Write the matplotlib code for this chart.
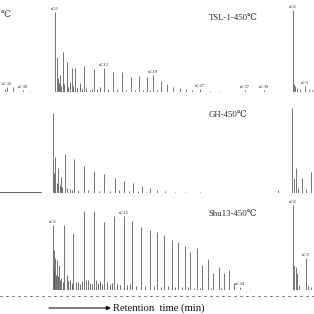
import matplotlib
matplotlib.use("Agg")
import matplotlib.pyplot as plt

# ---------------- data (retention-time units, relative intensity) ----------------
# Top row: TSL-1-450°C
top_left_t = [5, 7, 13, 23, 30]
top_left_h = [3, 5, 5, 2, 1]
top_left_lab = {7: "nC36", 23: "nC38"}

top_mid_t = [5, 6.5, 10, 12.7, 16.7, 21.7, 25, 30, 34.3, 44.3, 54, 63.3, 71.7, 80.7, 88.7, 96.7,
             103.3, 110.7, 117.3, 123.3, 130, 135.7, 142, 150, 160, 170, 195, 214]
top_mid_h = [80, 35, 17, 40, 30, 24, 24, 9, 26, 23, 24, 20, 20, 15, 16, 15,
             17, 11, 8, 5, 4, 3, 2, 2.5, 1, 1, 2, 1.5]
top_mid_minor_t = [7.5, 8.5, 11, 14, 18, 19.5, 23, 27, 32, 36, 40, 42, 47, 50, 58, 67, 76, 85, 93, 100, 107]
top_mid_minor_h = [14, 9, 6, 8, 5, 10, 6, 4, 3, 4, 2, 3, 3, 5, 3, 3, 2, 2, 2, 1.5, 1.5]
top_mid_lab = {5: "nC6", 54: "nC13", 103.3: "nC19", 150: "nC27", 195: "nC37", 214: "nC39"}

top_right_t = [3.5, 4.5, 6, 8, 11, 16, 20, 23]
top_right_h = [82, 8, 6, 4, 3, 6, 3, 2]
top_right_lab = {3.5: "nC6", 16: "nC9"}

# Middle row: GH-450°C
mid_mid_t = [2.7, 5, 8.3, 10.7, 15, 24, 34.3, 44.3, 54.3, 64.7, 74, 83.3, 91.7, 100, 107.3,
             115, 125, 135, 150, 228]
mid_mid_h = [80, 36, 25, 16, 39, 34, 27, 22, 19, 15, 12, 10, 7, 5, 3, 2, 1.5, 1, 1, 3]
mid_mid_minor_t = [3.5, 6.5, 9.5, 12, 17, 20, 22, 28, 38, 49, 60, 69, 79, 88, 96]
mid_mid_minor_h = [20, 10, 8, 6, 5, 4, 3, 3, 3, 2, 2, 3, 2, 2, 1.5]

mid_right_t = [3, 4.5, 7, 9, 13, 17, 21.7]
mid_right_h = [85, 15, 25, 5, 15, 4, 21]

# Bottom row: Shu13-450°C
bot_mid_t = [2.7, 3.5, 5, 7, 9, 11, 14.3, 16.5, 23.3, 26, 34.3, 36, 44.3, 46, 54.3, 64.3, 74,
             82.3, 90.7, 100, 107.3, 114, 121.7, 128.3, 135, 140, 146.7, 152.3, 157.7, 163.3,
             168.7, 174, 179.3, 184, 190, 200]
bot_mid_h = [65, 40, 32, 30, 25, 12, 65, 15, 57, 8, 79, 10, 79, 10, 68, 74, 74,
             69, 63, 60, 58, 55, 50, 48, 44, 38, 42, 25, 31, 17,
             23, 17, 20, 7, 3, 1]
bot_mid_minor_t = [4.2, 6, 8, 10, 12.5, 18, 20, 22, 28, 30, 32, 38, 40, 42, 48, 50, 52, 57, 60,
                   62, 67, 70, 77, 80, 86, 95, 104, 111, 118, 125, 132, 138, 144, 150, 161, 171]
bot_mid_minor_h = [20, 15, 14, 10, 8, 9, 10, 7, 8, 6, 9, 10, 7, 6, 7, 9, 6, 8, 6,
                   7, 6, 5, 5, 6, 4, 4, 4, 3, 4, 3, 3, 3, 2, 2, 2, 2]
bot_mid_lab = {2.7: "nC6", 74: "nC15", 190: "nC34"}

bot_right_t = [4, 5, 6.5, 8, 10, 16.7, 19, 22]
bot_right_h = [85, 25, 23, 17, 5, 32, 4, 3]
bot_right_lab = {4: "nC6", 16.7: "nC9"}

row_titles = ["TSL-1-450\u2103", "GH-450\u2103", "Shu13-450\u2103"]
left_title = "\u2103"
xlabel = "Retention  time (min)"

# ---------------- layout ----------------
W = H = 314
fig = plt.figure(figsize=(3.14, 3.14), dpi=100)
fig.patch.set_facecolor("white")
SERIF = ["Liberation Serif", "DejaVu Serif"]
PK = "#505050"
TXT = "#2a2a2a"

cols = {"left": (0, 42), "mid": (50, 288), "right": (289, 314)}
rows = {"top": 92, "mid": 193, "bot": 290}
PANEL_H = 90


def make_ax(col, row):
    x0, x1 = cols[col]
    base = rows[row]
    ax = fig.add_axes([x0 / W, 1 - base / H, (x1 - x0) / W, PANEL_H / H])
    ax.set_xlim(0, x1 - x0)
    ax.set_ylim(0, PANEL_H)
    ax.axis("off")
    return ax


def draw(ax, t, h, minor_t=None, minor_h=None, labels=None, base=(0, 1), lw=0.55):
    ax.axhline(0, base[0], base[1], color="#2a2a2a", lw=0.7)
    if minor_t:
        ax.vlines(minor_t, 0, minor_h, color="#333333", lw=0.5)
    ax.vlines(t, 0, h, color=PK, lw=lw)
    if labels:
        for tt, txt in labels.items():
            hh = h[t.index(tt)]
            ax.text(tt, hh + 1, txt, fontsize=3.3, family=SERIF, ha="center", va="bottom",
                    color=TXT)


# top row
ax = make_ax("left", "top")
draw(ax, top_left_t, top_left_h, labels=top_left_lab, base=(0, 0.95))
ax.text(1, 77, left_title, fontsize=6.5, family=SERIF, ha="left", va="center", color=TXT)
ax = make_ax("mid", "top")
draw(ax, top_mid_t, top_mid_h, top_mid_minor_t, top_mid_minor_h, top_mid_lab, base=(0.01, 0.96))
ax.text(183, 74, row_titles[0], fontsize=6.3, family=SERIF, ha="center", va="center", color=TXT)
ax = make_ax("right", "top")
draw(ax, top_right_t, top_right_h, labels=top_right_lab, base=(0.02, 1))

# middle row
ax = make_ax("left", "mid")
ax.axhline(0, 0, 0.95, color="#333333", lw=1.8)
ax = make_ax("mid", "mid")
draw(ax, mid_mid_t, mid_mid_h, mid_mid_minor_t, mid_mid_minor_h, base=(0.01, 0.995))
ax.text(178, 78, row_titles[1], fontsize=6.3, family=SERIF, ha="center", va="center", color=TXT)
ax = make_ax("right", "mid")
draw(ax, mid_right_t, mid_right_h, base=(0.02, 1))

# bottom row
ax = make_ax("left", "bot")
ax.axhline(0, 0, 0.95, color="#222222", lw=0.7)
ax = make_ax("mid", "bot")
draw(ax, bot_mid_t, bot_mid_h, bot_mid_minor_t, bot_mid_minor_h, bot_mid_lab, base=(0.01, 0.995))
ax.text(183, 76, row_titles[2], fontsize=6.3, family=SERIF, ha="center", va="center", color=TXT)
ax = make_ax("right", "bot")
draw(ax, bot_right_t, bot_right_h, labels=bot_right_lab, base=(0.02, 1))

# decoration overlay: dotted line, arrow, axis label
ov = fig.add_axes([0, 0, 1, 1])
ov.set_xlim(0, W)
ov.set_ylim(H, 0)
ov.axis("off")
ov.axhline(295.5, color="#333333", lw=0.6, linestyle=(0, (2.4, 4.8)))
ov.annotate("", xy=(111, 308), xytext=(49, 308),
            arrowprops=dict(arrowstyle="-|>", color="#111111", lw=0.8,
                            mutation_scale=6, shrinkA=0, shrinkB=0))
ov.text(113, 308.5, xlabel, fontsize=7.6, family=SERIF, ha="left", va="center", color="#111111")

fig.savefig("out.png", dpi=100, facecolor="white")
